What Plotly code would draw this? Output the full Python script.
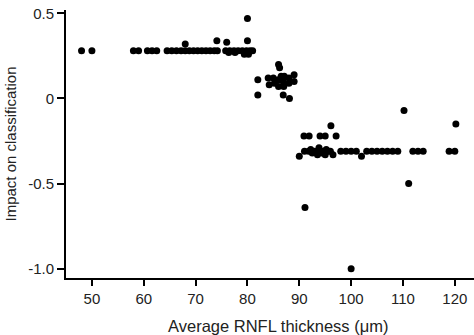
import plotly.graph_objects as go

# Upper plateau (~0.28)
x_upper = [48, 50, 58, 59, 60.7, 61.6, 62.5, 64.5, 65.4, 66.3, 67.2, 68.0, 68.8, 69.6, 70.4,
           71.2, 72.0, 72.8, 73.6, 74.2, 75.8, 76.6, 77.4, 78.2, 79.0, 79.8, 80.5, 81.0,
           68.0, 74.1, 76.0, 80.0, 80.0, 76.4, 77.6, 79.4, 80.2]
y_upper = [0.28, 0.28, 0.28, 0.28, 0.28, 0.28, 0.28, 0.28, 0.28, 0.28, 0.28, 0.28, 0.28, 0.28, 0.28,
           0.28, 0.28, 0.28, 0.28, 0.28, 0.28, 0.28, 0.28, 0.28, 0.28, 0.28, 0.28, 0.28,
           0.32, 0.34, 0.33, 0.34, 0.47, 0.27, 0.27, 0.26, 0.26]

# Middle cluster (~0.1)
x_mid = [82.0, 82.0, 84.0, 84.2, 85.0, 85.2, 86.0, 86.0, 86.5, 86.9, 87.0, 87.1, 88.0, 88.0,
         88.1, 89.0, 89.0, 86.0, 86.2, 86.9]
y_mid = [0.11, 0.02, 0.12, 0.08, 0.12, 0.09, 0.11, 0.07, 0.13, 0.10, 0.07, 0.13, 0.12, 0.09,
         0.00, 0.14, 0.10, 0.20, 0.18, 0.02]

# Lower plateau (~-0.31)
x_low = [90.0, 91.1, 100.0, 110.2, 111.1, 120.2, 96.1, 97.1, 90.9, 91.9, 94.0, 95.0,
         91.0, 91.8, 92.5, 93.0, 93.5, 93.8, 94.0, 94.3, 94.6, 95.0, 95.2, 95.6, 96.0, 96.5, 92.2,
         98.0, 99.0, 100.0, 101.0, 102.0,
         103.0, 104.0, 105.0, 106.0, 107.0, 108.0, 109.0,
         111.9, 112.9, 113.9, 118.9, 120.0]
y_low = [-0.34, -0.64, -1.00, -0.07, -0.50, -0.15, -0.16, -0.22, -0.22, -0.22, -0.22, -0.22,
         -0.31, -0.31, -0.32, -0.31, -0.33, -0.29, -0.31, -0.32, -0.31, -0.33, -0.30, -0.31, -0.31, -0.33, -0.30,
         -0.31, -0.31, -0.31, -0.31, -0.34,
         -0.31, -0.31, -0.31, -0.31, -0.31, -0.31, -0.31,
         -0.31, -0.31, -0.31, -0.31, -0.31]

x_all = x_upper + x_mid + x_low
y_all = y_upper + y_mid + y_low

x_ticks = [50, 60, 70, 80, 90, 100, 110, 120]
y_ticks = [0.5, 0, -0.5, -1.0]
y_tick_text = ["0.5", "0", "-0.5", "-1.0"]

fig = go.Figure()
fig.add_trace(go.Scatter(
    x=x_all, y=y_all, mode="markers",
    marker=dict(color="black", size=7, line=dict(width=0)),
    showlegend=False,
))

fam = "Liberation Sans, Arial, sans-serif"
tick_font = dict(family=fam, size=15, color="#222")
xtitle_font = dict(family=fam, size=16.5, color="#222")
ytitle_font = dict(family=fam, size=15, color="#222")

fig.update_layout(
    width=474, height=335,
    margin=dict(l=66, r=0, t=10, b=57),
    paper_bgcolor="white", plot_bgcolor="white",
    font=tick_font,
    xaxis=dict(
        range=[45, 123.7], tickvals=x_ticks, ticks="outside", ticklen=6, tickwidth=1.5,
        tickcolor="black", showline=True, linecolor="black", linewidth=2,
        showgrid=False, zeroline=False, tickfont=tick_font,
    ),
    yaxis=dict(
        range=[-1.055, 0.52], tickvals=y_ticks, ticktext=y_tick_text, ticks="outside",
        ticklen=7, tickwidth=1.5, tickcolor="black", showline=True, linecolor="black",
        linewidth=2, showgrid=False, zeroline=False, tickfont=tick_font,
        title=dict(text="Impact on classification", font=ytitle_font, standoff=8),
    ),
    annotations=[dict(
        text="Average RNFL thickness (μm)", xref="paper", yref="paper",
        x=0.52, y=0, yshift=-48, xanchor="center", yanchor="middle",
        showarrow=False, font=xtitle_font,
    )],
)

fig.write_html("out.html")
